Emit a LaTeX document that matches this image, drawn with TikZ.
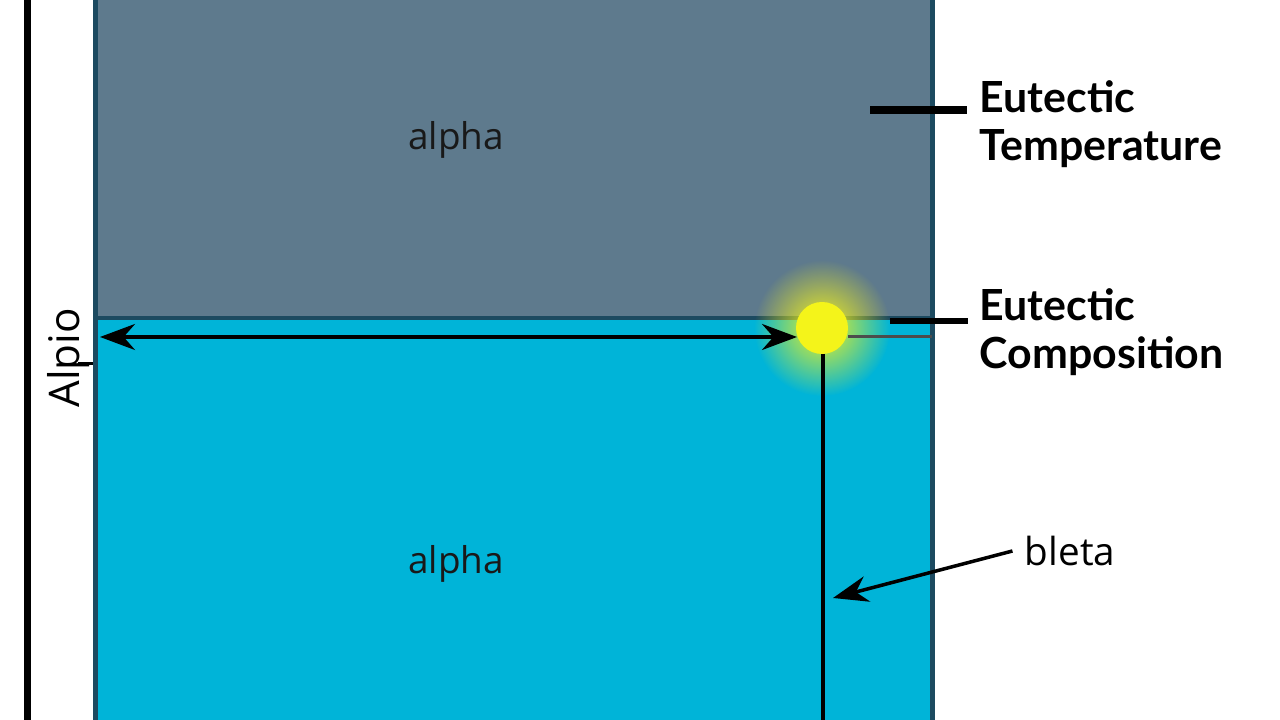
\documentclass[tikz,border=0pt]{standalone}
\usepackage{fontspec}
\setmainfont{Open Sans}
\newfontfamily\calloutfont{Lato}
\usetikzlibrary{arrows.meta,fadings}
\definecolor{solidtop}{HTML}{5E7A8D}
\definecolor{solidbot}{HTML}{00B4D8}
\definecolor{edgeblue}{HTML}{1C4A60}
\definecolor{dotyellow}{HTML}{F4F41A}
\tikzfading[name=glowfade, inner color=transparent!0, outer color=transparent!100]
\tikzset{
	phase/.style={font=\fontsize{10.5}{12}\selectfont, text=black!90},
	callout/.style={font=\calloutfont\fontsize{12.2}{13.6}\selectfont\bfseries, anchor=west, align=left, inner sep=0pt},
	pointer/.style={line width=1pt, -{Stealth[length=3.5mm, width=2.6mm]}},
}

\begin{document}
\begin{tikzpicture}
			%%%%% START %%%%%
			\useasboundingbox (0, 0) rectangle (12.8, 7.2);
			
			\fill[solidtop] (0.95, 4.02) rectangle (9.32, 7.2);
			\fill[solidbot] (0.95, 0) rectangle (9.32, 4.02);
			\draw[line width=0.5mm, color=edgeblue] (0.95, 0) -- (0.95, 7.2);
			\draw[line width=0.5mm, color=edgeblue] (9.32, 0) -- (9.32, 7.2);
			\draw[line width=0.45mm, color=edgeblue] (0.95, 4.02) -- (9.32, 4.02);
			
			\draw[line width=0.7mm] (0.27, 0) -- (0.27, 7.2);
			
			\node[phase] (alphaTop) at (4.56, 5.80) {alpha};
			\node[phase] (alphaBot) at (4.56, 1.56) {alpha};
			
			\node[rotate=90, font=\fontsize{12}{14}\selectfont] (yLabel) at (0.69, 3.62) {Alpio};
			\draw[line width=0.3mm] (0.78, 3.56) -- (0.93, 3.56);
			
			% eutectic point
			\coordinate (eutPoint) at (8.22, 3.92);
			\fill[dotyellow, path fading=glowfade] (eutPoint) circle (0.68);
			\coordinate (dotWest) at (7.97, 3.83);
			\coordinate (dotEast) at (8.48, 3.83);
			\coordinate (dotSouth) at (8.23, 3.66);
			\coordinate (leftEnd) at (1.00, 3.83);
			\coordinate (rightEnd) at (9.32, 3.83);
			\coordinate (bottomEnd) at (8.23, 0);
			
			\draw[line width=1pt, {Stealth[length=3.5mm, width=2.6mm]}-{Stealth[length=3.5mm, width=2.6mm]}] (leftEnd) -- (dotWest);
			\draw[line width=1pt] (dotSouth) -- (bottomEnd);
			\draw[line width=0.3mm, color=black!70] (dotEast) -- (rightEnd);
			\fill[dotyellow] (eutPoint) circle (0.26);
			
			% callouts
			\node[callout] (eutTemp) at (9.79, 5.96) {Eutectic\\Temperature};
			\node[callout] (eutComp) at (9.79, 3.88) {Eutectic\\Composition};
			\coordinate (tempTick) at (8.70, 6.10);
			\coordinate (compTick) at (8.90, 3.99);
			\draw[line width=0.8mm] (tempTick) -- ([xshift=-1.2mm]tempTick -| eutTemp.west);
			\draw[line width=0.6mm] (compTick) -- ([xshift=-1.1mm]compTick -| eutComp.west);
			
			\node[font=\fontsize{11}{13}\selectfont] (bleta) at (10.70, 1.69) {bleta};
			\coordinate (bletaTip) at (8.33, 1.22);
			\draw[pointer] (bleta.west) -- (bletaTip);
			%%%%% END %%%%%
		\end{tikzpicture}
\end{document}
